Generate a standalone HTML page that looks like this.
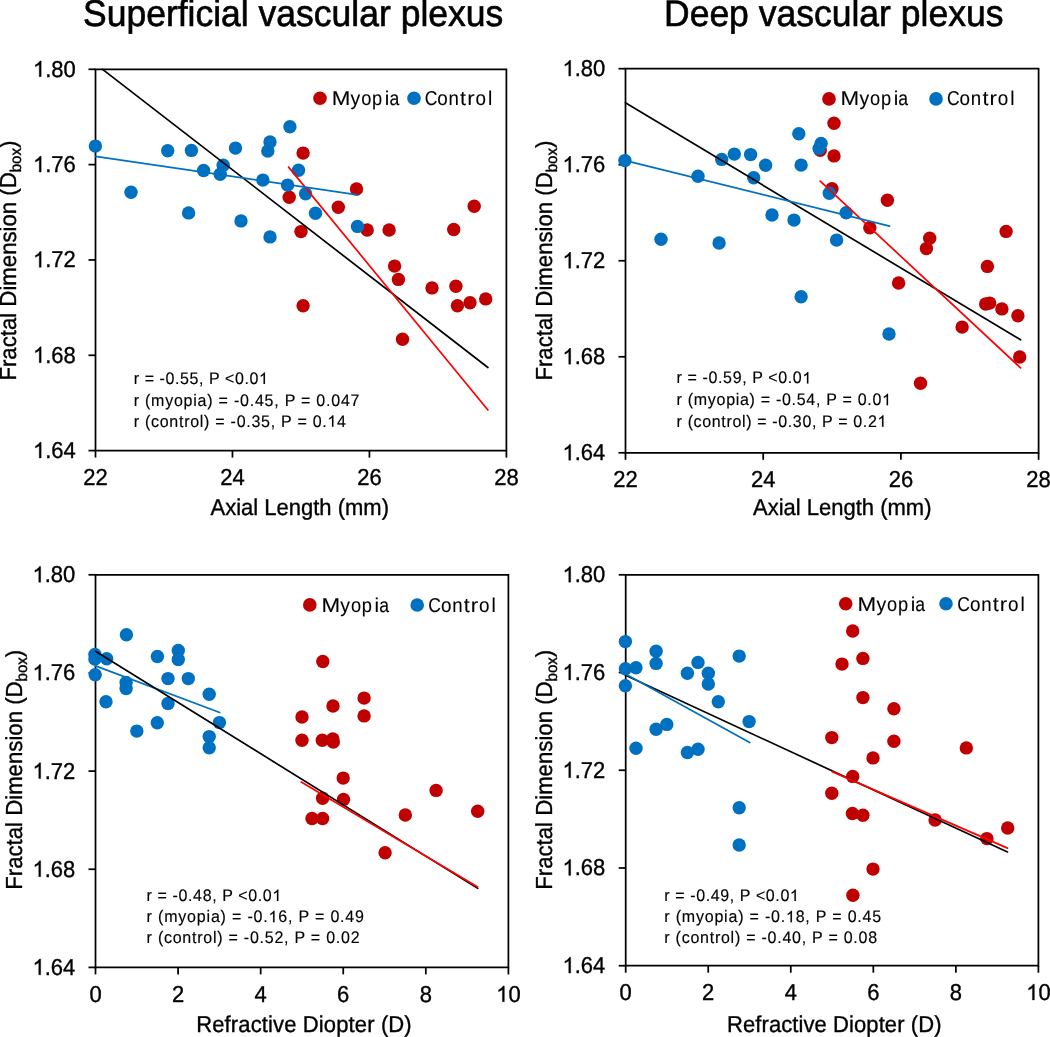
<!DOCTYPE html>
<html><head><meta charset="utf-8"><style>
html,body{margin:0;padding:0;background:#fff;width:1050px;height:1037px;overflow:hidden;}
svg{display:block;will-change:transform;}
text{text-rendering:geometricPrecision;font-family:"Liberation Sans", sans-serif;fill:#000;stroke:#000;stroke-width:0.35px;}
.ti{stroke-width:0.6px;}
.lg{stroke-width:0.1px;}
.st{stroke-width:0.15px;}
.h1{fill:transparent;stroke:transparent;}
</style></head><body>
<svg width="1050" height="1037" viewBox="0 0 1050 1037">
<text transform="translate(83 26.4) scale(1 1.045)" class="ti" font-size="35.5">Superficial vascular plexus</text>
<text transform="translate(664 26.4) scale(1 1.045)" class="ti" font-size="35.5">Deep vascular plexus</text>
<path d="M763 0H583V1147Q518 1085 412.5 1023T223 930V1104Q374 1175 487 1276T647 1472H763V0Z" transform="translate(258.99 383.8999938964844) scale(0.00781 -0.00781)" fill="#000" stroke="#000" stroke-width="19.2"/>
<path d="M763 0H583V1147Q518 1085 412.5 1023T223 930V1104Q374 1175 487 1276T647 1472H763V0Z" transform="translate(327.46 426.70001220703125) scale(0.00781 -0.00781)" fill="#000" stroke="#000" stroke-width="19.2"/>
<path d="M763 0H583V1147Q518 1085 412.5 1023T223 930V1104Q374 1175 487 1276T647 1472H763V0Z" transform="translate(802.39 383.3999938964844) scale(0.00781 -0.00781)" fill="#000" stroke="#000" stroke-width="19.2"/>
<path d="M763 0H583V1147Q518 1085 412.5 1023T223 930V1104Q374 1175 487 1276T647 1472H763V0Z" transform="translate(882.09 405.20001220703125) scale(0.00781 -0.00781)" fill="#000" stroke="#000" stroke-width="19.2"/>
<path d="M763 0H583V1147Q518 1085 412.5 1023T223 930V1104Q374 1175 487 1276T647 1472H763V0Z" transform="translate(877.49 426.70001220703125) scale(0.00781 -0.00781)" fill="#000" stroke="#000" stroke-width="19.2"/>
<path d="M763 0H583V1147Q518 1085 412.5 1023T223 930V1104Q374 1175 487 1276T647 1472H763V0Z" transform="translate(272.39 900.9000244140625) scale(0.00781 -0.00781)" fill="#000" stroke="#000" stroke-width="19.2"/>
<path d="M763 0H583V1147Q518 1085 412.5 1023T223 930V1104Q374 1175 487 1276T647 1472H763V0Z" transform="translate(268.55 922.2999877929688) scale(0.00781 -0.00781)" fill="#000" stroke="#000" stroke-width="19.2"/>
<path d="M763 0H583V1147Q518 1085 412.5 1023T223 930V1104Q374 1175 487 1276T647 1472H763V0Z" transform="translate(789.89 900.9000244140625) scale(0.00781 -0.00781)" fill="#000" stroke="#000" stroke-width="19.2"/>
<path d="M763 0H583V1147Q518 1085 412.5 1023T223 930V1104Q374 1175 487 1276T647 1472H763V0Z" transform="translate(785.96 922.2999877929688) scale(0.00781 -0.00781)" fill="#000" stroke="#000" stroke-width="19.2"/>
<path d="M95.5 69.3H506.4V450.6H95.5Z" fill="none" stroke="#000" stroke-width="1.75" stroke-linejoin="miter"/>
<line x1="95.5" y1="450.6" x2="95.5" y2="457.6" stroke="#000" stroke-width="1.75"/>
<text transform="translate(95.5 484.9) scale(1 1.045)" text-anchor="middle" font-size="22">22</text>
<line x1="232.47" y1="450.6" x2="232.47" y2="457.6" stroke="#000" stroke-width="1.75"/>
<text transform="translate(232.47 484.9) scale(1 1.045)" text-anchor="middle" font-size="22">24</text>
<line x1="369.43" y1="450.6" x2="369.43" y2="457.6" stroke="#000" stroke-width="1.75"/>
<text transform="translate(369.43 484.9) scale(1 1.045)" text-anchor="middle" font-size="22">26</text>
<line x1="506.4" y1="450.6" x2="506.4" y2="457.6" stroke="#000" stroke-width="1.75"/>
<text transform="translate(506.4 484.9) scale(1 1.045)" text-anchor="middle" font-size="22">28</text>
<line x1="88.5" y1="69.3" x2="95.5" y2="69.3" stroke="#000" stroke-width="1.75"/>
<path d="M763 0H583V1147Q518 1085 412.5 1023T223 930V1104Q374 1175 487 1276T647 1472H763V0Z" transform="translate(32.98 76.7) scale(0.01074 -0.01074)" fill="#000" stroke="#000" stroke-width="32.6"/>
<text transform="translate(75.8 76.7) scale(1 1.045)" text-anchor="end" font-size="22">.80</text>
<line x1="88.5" y1="164.62" x2="95.5" y2="164.62" stroke="#000" stroke-width="1.75"/>
<path d="M763 0H583V1147Q518 1085 412.5 1023T223 930V1104Q374 1175 487 1276T647 1472H763V0Z" transform="translate(32.98 172.02) scale(0.01074 -0.01074)" fill="#000" stroke="#000" stroke-width="32.6"/>
<text transform="translate(75.8 172.02) scale(1 1.045)" text-anchor="end" font-size="22">.76</text>
<line x1="88.5" y1="259.95" x2="95.5" y2="259.95" stroke="#000" stroke-width="1.75"/>
<path d="M763 0H583V1147Q518 1085 412.5 1023T223 930V1104Q374 1175 487 1276T647 1472H763V0Z" transform="translate(32.98 267.35) scale(0.01074 -0.01074)" fill="#000" stroke="#000" stroke-width="32.6"/>
<text transform="translate(75.8 267.35) scale(1 1.045)" text-anchor="end" font-size="22">.72</text>
<line x1="88.5" y1="355.28" x2="95.5" y2="355.28" stroke="#000" stroke-width="1.75"/>
<path d="M763 0H583V1147Q518 1085 412.5 1023T223 930V1104Q374 1175 487 1276T647 1472H763V0Z" transform="translate(32.98 362.68) scale(0.01074 -0.01074)" fill="#000" stroke="#000" stroke-width="32.6"/>
<text transform="translate(75.8 362.68) scale(1 1.045)" text-anchor="end" font-size="22">.68</text>
<line x1="88.5" y1="450.6" x2="95.5" y2="450.6" stroke="#000" stroke-width="1.75"/>
<path d="M763 0H583V1147Q518 1085 412.5 1023T223 930V1104Q374 1175 487 1276T647 1472H763V0Z" transform="translate(32.98 458.0) scale(0.01074 -0.01074)" fill="#000" stroke="#000" stroke-width="32.6"/>
<text transform="translate(75.8 458.0) scale(1 1.045)" text-anchor="end" font-size="22">.64</text>
<text transform="translate(16.1 380.6) rotate(-90) scale(1 1.045)" font-size="22.2">Fractal Dimension (D<tspan font-size="15" dy="4.8">box</tspan><tspan dy="-4.8">)</tspan></text>
<text transform="translate(210.5 514.8) scale(1 1.045)" font-size="22" textLength="178.5" lengthAdjust="spacing">Axial Length (mm)</text>
<circle cx="320" cy="98.2" r="6.8" fill="#C00000"/>
<circle cx="414" cy="98.3" r="6.8" fill="#0070C0"/>
<text class="lg" font-size="20" transform="translate(331.67 104.8) scale(1.120 1.0)">M</text><text class="lg" font-size="20" transform="translate(350.55 104.8) scale(0.969 1.0)">y</text><text class="lg" font-size="20" transform="translate(361.13 104.8) scale(0.911 1.0)">o</text><text class="lg" font-size="20" transform="translate(372.02 104.8) scale(0.912 1.0)">p</text><text class="lg" font-size="20" transform="translate(384.73 104.8) scale(1.023 1.0)">i</text><text class="lg" font-size="20" transform="translate(389.38 104.8) scale(0.880 1.0)">a</text>
<text class="lg" font-size="20" transform="translate(424.63 104.8) scale(0.880 1.0)">C</text><text class="lg" font-size="20" transform="translate(437.31 104.8) scale(0.943 1.0)">o</text><text class="lg" font-size="20" transform="translate(448.56 104.8) scale(0.931 1.0)">n</text><text class="lg" font-size="20" transform="translate(460.08 104.8) scale(1.076 1.0)">t</text><text class="lg" font-size="20" transform="translate(467.14 104.8) scale(1.100 1.0)">r</text><text class="lg" font-size="20" transform="translate(475.41 104.8) scale(0.943 1.0)">o</text><text class="lg" font-size="20" transform="translate(487.90 104.8) scale(0.966 1.0)">l</text>
<text transform="translate(133.7 383.9) scale(1 1.045)" font-size="16" class="st" textLength="134.2" lengthAdjust="spacing">r = -0.55, P &lt;0.0<tspan class="h1">1</tspan></text>
<text transform="translate(133.7 405.5) scale(1 1.045)" font-size="16" class="st" textLength="225.8" lengthAdjust="spacing">r (myopia) = -0.45, P = 0.047</text>
<text transform="translate(133.7 426.7) scale(1 1.045)" font-size="16" class="st" textLength="212.3" lengthAdjust="spacing">r (control) = -0.35, P = 0.<tspan class="h1">1</tspan>4</text>
<circle cx="303.1" cy="153.1" r="6.7" fill="#C00000"/>
<circle cx="289.2" cy="197.3" r="6.7" fill="#C00000"/>
<circle cx="301.0" cy="231.6" r="6.7" fill="#C00000"/>
<circle cx="303.1" cy="305.7" r="6.7" fill="#C00000"/>
<circle cx="338.3" cy="207.2" r="6.7" fill="#C00000"/>
<circle cx="356.5" cy="189.0" r="6.7" fill="#C00000"/>
<circle cx="367.2" cy="230.0" r="6.7" fill="#C00000"/>
<circle cx="389.1" cy="230.0" r="6.7" fill="#C00000"/>
<circle cx="394.6" cy="266.1" r="6.7" fill="#C00000"/>
<circle cx="398.4" cy="279.4" r="6.7" fill="#C00000"/>
<circle cx="402.5" cy="339.2" r="6.7" fill="#C00000"/>
<circle cx="432.0" cy="287.9" r="6.7" fill="#C00000"/>
<circle cx="453.7" cy="229.5" r="6.7" fill="#C00000"/>
<circle cx="455.9" cy="286.2" r="6.7" fill="#C00000"/>
<circle cx="457.4" cy="305.7" r="6.7" fill="#C00000"/>
<circle cx="470.0" cy="302.7" r="6.7" fill="#C00000"/>
<circle cx="474.2" cy="206.2" r="6.7" fill="#C00000"/>
<circle cx="485.7" cy="298.9" r="6.7" fill="#C00000"/>
<circle cx="95.4" cy="146.1" r="6.7" fill="#0070C0"/>
<circle cx="131.0" cy="192.3" r="6.7" fill="#0070C0"/>
<circle cx="167.7" cy="150.8" r="6.7" fill="#0070C0"/>
<circle cx="191.4" cy="150.4" r="6.7" fill="#0070C0"/>
<circle cx="188.6" cy="212.9" r="6.7" fill="#0070C0"/>
<circle cx="203.6" cy="170.5" r="6.7" fill="#0070C0"/>
<circle cx="220.2" cy="174.3" r="6.7" fill="#0070C0"/>
<circle cx="223.2" cy="165.2" r="6.7" fill="#0070C0"/>
<circle cx="235.5" cy="148.1" r="6.7" fill="#0070C0"/>
<circle cx="241.0" cy="220.9" r="6.7" fill="#0070C0"/>
<circle cx="262.9" cy="180.1" r="6.7" fill="#0070C0"/>
<circle cx="267.8" cy="151.1" r="6.7" fill="#0070C0"/>
<circle cx="270.0" cy="142.0" r="6.7" fill="#0070C0"/>
<circle cx="270.0" cy="236.9" r="6.7" fill="#0070C0"/>
<circle cx="289.9" cy="126.8" r="6.7" fill="#0070C0"/>
<circle cx="287.6" cy="185.1" r="6.7" fill="#0070C0"/>
<circle cx="298.5" cy="170.2" r="6.7" fill="#0070C0"/>
<circle cx="305.6" cy="193.8" r="6.7" fill="#0070C0"/>
<circle cx="315.5" cy="213.3" r="6.7" fill="#0070C0"/>
<circle cx="357.5" cy="226.4" r="6.7" fill="#0070C0"/>
<line x1="102.6" y1="69.3" x2="487.9" y2="367.5" stroke="#000" stroke-width="1.7" stroke-linecap="round"/>
<line x1="288.6" y1="167.1" x2="487.9" y2="410.0" stroke="#FF0000" stroke-width="1.7" stroke-linecap="round"/>
<line x1="95.5" y1="156.3" x2="357.7" y2="194.9" stroke="#0070C0" stroke-width="1.7" stroke-linecap="round"/>
<path d="M625.5 68.7H1038.6V452.8H625.5Z" fill="none" stroke="#000" stroke-width="1.75" stroke-linejoin="miter"/>
<line x1="625.5" y1="452.8" x2="625.5" y2="459.8" stroke="#000" stroke-width="1.75"/>
<text transform="translate(625.5 487.1) scale(1 1.045)" text-anchor="middle" font-size="22">22</text>
<line x1="763.2" y1="452.8" x2="763.2" y2="459.8" stroke="#000" stroke-width="1.75"/>
<text transform="translate(763.2 487.1) scale(1 1.045)" text-anchor="middle" font-size="22">24</text>
<line x1="900.9" y1="452.8" x2="900.9" y2="459.8" stroke="#000" stroke-width="1.75"/>
<text transform="translate(900.9 487.1) scale(1 1.045)" text-anchor="middle" font-size="22">26</text>
<line x1="1038.6" y1="452.8" x2="1038.6" y2="459.8" stroke="#000" stroke-width="1.75"/>
<text transform="translate(1038.6 487.1) scale(1 1.045)" text-anchor="middle" font-size="22">28</text>
<line x1="618.5" y1="68.7" x2="625.5" y2="68.7" stroke="#000" stroke-width="1.75"/>
<path d="M763 0H583V1147Q518 1085 412.5 1023T223 930V1104Q374 1175 487 1276T647 1472H763V0Z" transform="translate(562.48 76.1) scale(0.01074 -0.01074)" fill="#000" stroke="#000" stroke-width="32.6"/>
<text transform="translate(605.3 76.1) scale(1 1.045)" text-anchor="end" font-size="22">.80</text>
<line x1="618.5" y1="164.73" x2="625.5" y2="164.73" stroke="#000" stroke-width="1.75"/>
<path d="M763 0H583V1147Q518 1085 412.5 1023T223 930V1104Q374 1175 487 1276T647 1472H763V0Z" transform="translate(562.48 172.13) scale(0.01074 -0.01074)" fill="#000" stroke="#000" stroke-width="32.6"/>
<text transform="translate(605.3 172.13) scale(1 1.045)" text-anchor="end" font-size="22">.76</text>
<line x1="618.5" y1="260.75" x2="625.5" y2="260.75" stroke="#000" stroke-width="1.75"/>
<path d="M763 0H583V1147Q518 1085 412.5 1023T223 930V1104Q374 1175 487 1276T647 1472H763V0Z" transform="translate(562.48 268.15) scale(0.01074 -0.01074)" fill="#000" stroke="#000" stroke-width="32.6"/>
<text transform="translate(605.3 268.15) scale(1 1.045)" text-anchor="end" font-size="22">.72</text>
<line x1="618.5" y1="356.78" x2="625.5" y2="356.78" stroke="#000" stroke-width="1.75"/>
<path d="M763 0H583V1147Q518 1085 412.5 1023T223 930V1104Q374 1175 487 1276T647 1472H763V0Z" transform="translate(562.48 364.18) scale(0.01074 -0.01074)" fill="#000" stroke="#000" stroke-width="32.6"/>
<text transform="translate(605.3 364.18) scale(1 1.045)" text-anchor="end" font-size="22">.68</text>
<line x1="618.5" y1="452.8" x2="625.5" y2="452.8" stroke="#000" stroke-width="1.75"/>
<path d="M763 0H583V1147Q518 1085 412.5 1023T223 930V1104Q374 1175 487 1276T647 1472H763V0Z" transform="translate(562.48 460.2) scale(0.01074 -0.01074)" fill="#000" stroke="#000" stroke-width="32.6"/>
<text transform="translate(605.3 460.2) scale(1 1.045)" text-anchor="end" font-size="22">.64</text>
<text transform="translate(551.7 380.6) rotate(-90) scale(1 1.045)" font-size="22.2">Fractal Dimension (D<tspan font-size="15" dy="4.8">box</tspan><tspan dy="-4.8">)</tspan></text>
<text transform="translate(753 514.6) scale(1 1.045)" font-size="22" textLength="178.5" lengthAdjust="spacing">Axial Length (mm)</text>
<circle cx="829.0" cy="98.9" r="6.8" fill="#C00000"/>
<circle cx="936" cy="98.9" r="6.8" fill="#0070C0"/>
<text class="lg" font-size="20" transform="translate(840.57 105.1) scale(1.120 1.0)">M</text><text class="lg" font-size="20" transform="translate(859.45 105.1) scale(0.969 1.0)">y</text><text class="lg" font-size="20" transform="translate(870.03 105.1) scale(0.911 1.0)">o</text><text class="lg" font-size="20" transform="translate(880.92 105.1) scale(0.912 1.0)">p</text><text class="lg" font-size="20" transform="translate(893.63 105.1) scale(1.023 1.0)">i</text><text class="lg" font-size="20" transform="translate(898.28 105.1) scale(0.880 1.0)">a</text>
<text class="lg" font-size="20" transform="translate(946.93 105.1) scale(0.880 1.0)">C</text><text class="lg" font-size="20" transform="translate(959.61 105.1) scale(0.943 1.0)">o</text><text class="lg" font-size="20" transform="translate(970.86 105.1) scale(0.931 1.0)">n</text><text class="lg" font-size="20" transform="translate(982.38 105.1) scale(1.076 1.0)">t</text><text class="lg" font-size="20" transform="translate(989.44 105.1) scale(1.100 1.0)">r</text><text class="lg" font-size="20" transform="translate(997.71 105.1) scale(0.943 1.0)">o</text><text class="lg" font-size="20" transform="translate(1010.20 105.1) scale(0.966 1.0)">l</text>
<text transform="translate(676.6 383.4) scale(1 1.045)" font-size="16" class="st" textLength="134.7" lengthAdjust="spacing">r = -0.59, P &lt;0.0<tspan class="h1">1</tspan></text>
<text transform="translate(676.6 405.2) scale(1 1.045)" font-size="16" class="st" textLength="214.4" lengthAdjust="spacing">r (myopia) = -0.54, P = 0.0<tspan class="h1">1</tspan></text>
<text transform="translate(676.6 426.7) scale(1 1.045)" font-size="16" class="st" textLength="209.8" lengthAdjust="spacing">r (control) = -0.30, P = 0.2<tspan class="h1">1</tspan></text>
<circle cx="834.0" cy="123.2" r="6.7" fill="#C00000"/>
<circle cx="820.2" cy="150.3" r="6.7" fill="#C00000"/>
<circle cx="834.0" cy="155.9" r="6.7" fill="#C00000"/>
<circle cx="832.0" cy="188.8" r="6.7" fill="#C00000"/>
<circle cx="887.4" cy="200.3" r="6.7" fill="#C00000"/>
<circle cx="869.8" cy="227.7" r="6.7" fill="#C00000"/>
<circle cx="898.6" cy="283.0" r="6.7" fill="#C00000"/>
<circle cx="929.7" cy="238.3" r="6.7" fill="#C00000"/>
<circle cx="926.4" cy="248.6" r="6.7" fill="#C00000"/>
<circle cx="1006.1" cy="231.4" r="6.7" fill="#C00000"/>
<circle cx="987.4" cy="266.4" r="6.7" fill="#C00000"/>
<circle cx="985.7" cy="304.0" r="6.7" fill="#C00000"/>
<circle cx="989.7" cy="303.1" r="6.7" fill="#C00000"/>
<circle cx="1001.9" cy="308.9" r="6.7" fill="#C00000"/>
<circle cx="1017.9" cy="315.7" r="6.7" fill="#C00000"/>
<circle cx="962.1" cy="327.1" r="6.7" fill="#C00000"/>
<circle cx="920.5" cy="383.2" r="6.7" fill="#C00000"/>
<circle cx="1019.7" cy="357.0" r="6.7" fill="#C00000"/>
<circle cx="624.9" cy="160.6" r="6.7" fill="#0070C0"/>
<circle cx="698.0" cy="176.2" r="6.7" fill="#0070C0"/>
<circle cx="721.7" cy="159.4" r="6.7" fill="#0070C0"/>
<circle cx="734.3" cy="154.1" r="6.7" fill="#0070C0"/>
<circle cx="750.6" cy="154.6" r="6.7" fill="#0070C0"/>
<circle cx="765.6" cy="165.2" r="6.7" fill="#0070C0"/>
<circle cx="753.7" cy="177.7" r="6.7" fill="#0070C0"/>
<circle cx="772.0" cy="215.0" r="6.7" fill="#0070C0"/>
<circle cx="661.0" cy="239.3" r="6.7" fill="#0070C0"/>
<circle cx="719.1" cy="243.0" r="6.7" fill="#0070C0"/>
<circle cx="798.8" cy="133.8" r="6.7" fill="#0070C0"/>
<circle cx="821.1" cy="143.4" r="6.7" fill="#0070C0"/>
<circle cx="819.1" cy="148.5" r="6.7" fill="#0070C0"/>
<circle cx="801.1" cy="165.1" r="6.7" fill="#0070C0"/>
<circle cx="829.3" cy="193.3" r="6.7" fill="#0070C0"/>
<circle cx="846.1" cy="212.8" r="6.7" fill="#0070C0"/>
<circle cx="794.0" cy="220.1" r="6.7" fill="#0070C0"/>
<circle cx="836.6" cy="240.1" r="6.7" fill="#0070C0"/>
<circle cx="801.1" cy="296.8" r="6.7" fill="#0070C0"/>
<circle cx="889.0" cy="334.0" r="6.7" fill="#0070C0"/>
<line x1="625.4" y1="102.7" x2="1020.6" y2="339.8" stroke="#000" stroke-width="1.7" stroke-linecap="round"/>
<line x1="820.2" y1="181.2" x2="1020.6" y2="367.9" stroke="#FF0000" stroke-width="1.7" stroke-linecap="round"/>
<line x1="625.5" y1="160.6" x2="889.6" y2="226.1" stroke="#0070C0" stroke-width="1.7" stroke-linecap="round"/>
<path d="M95.5 574.8H508.4V967.4H95.5Z" fill="none" stroke="#000" stroke-width="1.75" stroke-linejoin="miter"/>
<line x1="95.5" y1="967.4" x2="95.5" y2="974.4" stroke="#000" stroke-width="1.75"/>
<text transform="translate(95.5 1001.7) scale(1 1.045)" text-anchor="middle" font-size="22">0</text>
<line x1="178.08" y1="967.4" x2="178.08" y2="974.4" stroke="#000" stroke-width="1.75"/>
<text transform="translate(178.08 1001.7) scale(1 1.045)" text-anchor="middle" font-size="22">2</text>
<line x1="260.66" y1="967.4" x2="260.66" y2="974.4" stroke="#000" stroke-width="1.75"/>
<text transform="translate(260.66 1001.7) scale(1 1.045)" text-anchor="middle" font-size="22">4</text>
<line x1="343.24" y1="967.4" x2="343.24" y2="974.4" stroke="#000" stroke-width="1.75"/>
<text transform="translate(343.24 1001.7) scale(1 1.045)" text-anchor="middle" font-size="22">6</text>
<line x1="425.82" y1="967.4" x2="425.82" y2="974.4" stroke="#000" stroke-width="1.75"/>
<text transform="translate(425.82 1001.7) scale(1 1.045)" text-anchor="middle" font-size="22">8</text>
<line x1="508.4" y1="967.4" x2="508.4" y2="974.4" stroke="#000" stroke-width="1.75"/>
<path d="M763 0H583V1147Q518 1085 412.5 1023T223 930V1104Q374 1175 487 1276T647 1472H763V0Z" transform="translate(496.16 1001.7) scale(0.01074 -0.01074)" fill="#000" stroke="#000" stroke-width="32.6"/>
<text transform="translate(508.4 1001.7) scale(1 1.045)" font-size="22">0</text>
<line x1="88.5" y1="574.8" x2="95.5" y2="574.8" stroke="#000" stroke-width="1.75"/>
<path d="M763 0H583V1147Q518 1085 412.5 1023T223 930V1104Q374 1175 487 1276T647 1472H763V0Z" transform="translate(32.48 582.2) scale(0.01074 -0.01074)" fill="#000" stroke="#000" stroke-width="32.6"/>
<text transform="translate(75.3 582.2) scale(1 1.045)" text-anchor="end" font-size="22">.80</text>
<line x1="88.5" y1="672.95" x2="95.5" y2="672.95" stroke="#000" stroke-width="1.75"/>
<path d="M763 0H583V1147Q518 1085 412.5 1023T223 930V1104Q374 1175 487 1276T647 1472H763V0Z" transform="translate(32.48 680.35) scale(0.01074 -0.01074)" fill="#000" stroke="#000" stroke-width="32.6"/>
<text transform="translate(75.3 680.35) scale(1 1.045)" text-anchor="end" font-size="22">.76</text>
<line x1="88.5" y1="771.1" x2="95.5" y2="771.1" stroke="#000" stroke-width="1.75"/>
<path d="M763 0H583V1147Q518 1085 412.5 1023T223 930V1104Q374 1175 487 1276T647 1472H763V0Z" transform="translate(32.48 778.5) scale(0.01074 -0.01074)" fill="#000" stroke="#000" stroke-width="32.6"/>
<text transform="translate(75.3 778.5) scale(1 1.045)" text-anchor="end" font-size="22">.72</text>
<line x1="88.5" y1="869.25" x2="95.5" y2="869.25" stroke="#000" stroke-width="1.75"/>
<path d="M763 0H583V1147Q518 1085 412.5 1023T223 930V1104Q374 1175 487 1276T647 1472H763V0Z" transform="translate(32.48 876.65) scale(0.01074 -0.01074)" fill="#000" stroke="#000" stroke-width="32.6"/>
<text transform="translate(75.3 876.65) scale(1 1.045)" text-anchor="end" font-size="22">.68</text>
<line x1="88.5" y1="967.4" x2="95.5" y2="967.4" stroke="#000" stroke-width="1.75"/>
<path d="M763 0H583V1147Q518 1085 412.5 1023T223 930V1104Q374 1175 487 1276T647 1472H763V0Z" transform="translate(32.48 974.8) scale(0.01074 -0.01074)" fill="#000" stroke="#000" stroke-width="32.6"/>
<text transform="translate(75.3 974.8) scale(1 1.045)" text-anchor="end" font-size="22">.64</text>
<text transform="translate(21.6 889.8) rotate(-90) scale(1 1.045)" font-size="22.2">Fractal Dimension (D<tspan font-size="15" dy="4.8">box</tspan><tspan dy="-4.8">)</tspan></text>
<text transform="translate(196.2 1031.6) scale(1 1.045)" font-size="22" textLength="215.5" lengthAdjust="spacing">Refractive Diopter (D)</text>
<circle cx="309.8" cy="604.9" r="6.8" fill="#C00000"/>
<circle cx="417.2" cy="605" r="6.8" fill="#0070C0"/>
<text class="lg" font-size="20" transform="translate(321.47 611.5) scale(1.120 1.0)">M</text><text class="lg" font-size="20" transform="translate(340.35 611.5) scale(0.969 1.0)">y</text><text class="lg" font-size="20" transform="translate(350.93 611.5) scale(0.911 1.0)">o</text><text class="lg" font-size="20" transform="translate(361.82 611.5) scale(0.912 1.0)">p</text><text class="lg" font-size="20" transform="translate(374.53 611.5) scale(1.023 1.0)">i</text><text class="lg" font-size="20" transform="translate(379.18 611.5) scale(0.880 1.0)">a</text>
<text class="lg" font-size="20" transform="translate(428.33 611.5) scale(0.880 1.0)">C</text><text class="lg" font-size="20" transform="translate(441.01 611.5) scale(0.943 1.0)">o</text><text class="lg" font-size="20" transform="translate(452.26 611.5) scale(0.931 1.0)">n</text><text class="lg" font-size="20" transform="translate(463.78 611.5) scale(1.076 1.0)">t</text><text class="lg" font-size="20" transform="translate(470.84 611.5) scale(1.100 1.0)">r</text><text class="lg" font-size="20" transform="translate(479.11 611.5) scale(0.943 1.0)">o</text><text class="lg" font-size="20" transform="translate(491.60 611.5) scale(0.966 1.0)">l</text>
<text transform="translate(146.6 900.9) scale(1 1.045)" font-size="16" class="st" textLength="134.7" lengthAdjust="spacing">r = -0.48, P &lt;0.0<tspan class="h1">1</tspan></text>
<text transform="translate(146.6 922.3) scale(1 1.045)" font-size="16" class="st" textLength="217.4" lengthAdjust="spacing">r (myopia) = -0.<tspan class="h1">1</tspan>6, P = 0.49</text>
<text transform="translate(146.6 943.4) scale(1 1.045)" font-size="16" class="st" textLength="213.0" lengthAdjust="spacing">r (control) = -0.52, P = 0.02</text>
<circle cx="322.8" cy="661.5" r="6.7" fill="#C00000"/>
<circle cx="364.1" cy="698.1" r="6.7" fill="#C00000"/>
<circle cx="333.0" cy="706.0" r="6.7" fill="#C00000"/>
<circle cx="302.0" cy="717.0" r="6.7" fill="#C00000"/>
<circle cx="364.1" cy="715.9" r="6.7" fill="#C00000"/>
<circle cx="302.0" cy="740.3" r="6.7" fill="#C00000"/>
<circle cx="322.3" cy="740.3" r="6.7" fill="#C00000"/>
<circle cx="332.8" cy="739.0" r="6.7" fill="#C00000"/>
<circle cx="333.3" cy="742.0" r="6.7" fill="#C00000"/>
<circle cx="343.2" cy="778.1" r="6.7" fill="#C00000"/>
<circle cx="322.6" cy="798.2" r="6.7" fill="#C00000"/>
<circle cx="343.5" cy="799.4" r="6.7" fill="#C00000"/>
<circle cx="312.0" cy="818.5" r="6.7" fill="#C00000"/>
<circle cx="322.6" cy="818.5" r="6.7" fill="#C00000"/>
<circle cx="385.1" cy="852.8" r="6.7" fill="#C00000"/>
<circle cx="436.1" cy="790.4" r="6.7" fill="#C00000"/>
<circle cx="405.3" cy="815.0" r="6.7" fill="#C00000"/>
<circle cx="477.7" cy="811.2" r="6.7" fill="#C00000"/>
<circle cx="126.4" cy="634.7" r="6.7" fill="#0070C0"/>
<circle cx="94.9" cy="654.5" r="6.7" fill="#0070C0"/>
<circle cx="94.9" cy="659.0" r="6.7" fill="#0070C0"/>
<circle cx="106.7" cy="658.8" r="6.7" fill="#0070C0"/>
<circle cx="95.2" cy="674.7" r="6.7" fill="#0070C0"/>
<circle cx="126.1" cy="682.4" r="6.7" fill="#0070C0"/>
<circle cx="126.1" cy="688.5" r="6.7" fill="#0070C0"/>
<circle cx="106.0" cy="701.7" r="6.7" fill="#0070C0"/>
<circle cx="157.4" cy="656.5" r="6.7" fill="#0070C0"/>
<circle cx="178.3" cy="650.4" r="6.7" fill="#0070C0"/>
<circle cx="178.3" cy="659.5" r="6.7" fill="#0070C0"/>
<circle cx="168.0" cy="678.6" r="6.7" fill="#0070C0"/>
<circle cx="188.3" cy="678.6" r="6.7" fill="#0070C0"/>
<circle cx="209.2" cy="694.3" r="6.7" fill="#0070C0"/>
<circle cx="168.0" cy="703.5" r="6.7" fill="#0070C0"/>
<circle cx="157.3" cy="722.8" r="6.7" fill="#0070C0"/>
<circle cx="136.8" cy="731.1" r="6.7" fill="#0070C0"/>
<circle cx="219.4" cy="722.6" r="6.7" fill="#0070C0"/>
<circle cx="209.2" cy="736.6" r="6.7" fill="#0070C0"/>
<circle cx="209.2" cy="747.7" r="6.7" fill="#0070C0"/>
<line x1="95.5" y1="665.9" x2="219.7" y2="712.5" stroke="#0070C0" stroke-width="1.7" stroke-linecap="round"/>
<line x1="95.5" y1="651.2" x2="477.7" y2="888.4" stroke="#000" stroke-width="1.7" stroke-linecap="round"/>
<line x1="301.3" y1="781.9" x2="477.7" y2="886.9" stroke="#FF0000" stroke-width="1.7" stroke-linecap="round"/>
<path d="M625.7 574.8H1038.4V965.7H625.7Z" fill="none" stroke="#000" stroke-width="1.75" stroke-linejoin="miter"/>
<line x1="625.7" y1="965.7" x2="625.7" y2="972.7" stroke="#000" stroke-width="1.75"/>
<text transform="translate(625.7 1000.0) scale(1 1.045)" text-anchor="middle" font-size="22">0</text>
<line x1="708.24" y1="965.7" x2="708.24" y2="972.7" stroke="#000" stroke-width="1.75"/>
<text transform="translate(708.24 1000.0) scale(1 1.045)" text-anchor="middle" font-size="22">2</text>
<line x1="790.78" y1="965.7" x2="790.78" y2="972.7" stroke="#000" stroke-width="1.75"/>
<text transform="translate(790.78 1000.0) scale(1 1.045)" text-anchor="middle" font-size="22">4</text>
<line x1="873.32" y1="965.7" x2="873.32" y2="972.7" stroke="#000" stroke-width="1.75"/>
<text transform="translate(873.32 1000.0) scale(1 1.045)" text-anchor="middle" font-size="22">6</text>
<line x1="955.86" y1="965.7" x2="955.86" y2="972.7" stroke="#000" stroke-width="1.75"/>
<text transform="translate(955.86 1000.0) scale(1 1.045)" text-anchor="middle" font-size="22">8</text>
<line x1="1038.4" y1="965.7" x2="1038.4" y2="972.7" stroke="#000" stroke-width="1.75"/>
<path d="M763 0H583V1147Q518 1085 412.5 1023T223 930V1104Q374 1175 487 1276T647 1472H763V0Z" transform="translate(1026.17 1000.0) scale(0.01074 -0.01074)" fill="#000" stroke="#000" stroke-width="32.6"/>
<text transform="translate(1038.4 1000.0) scale(1 1.045)" font-size="22">0</text>
<line x1="618.7" y1="574.8" x2="625.7" y2="574.8" stroke="#000" stroke-width="1.75"/>
<path d="M763 0H583V1147Q518 1085 412.5 1023T223 930V1104Q374 1175 487 1276T647 1472H763V0Z" transform="translate(562.48 582.2) scale(0.01074 -0.01074)" fill="#000" stroke="#000" stroke-width="32.6"/>
<text transform="translate(605.3 582.2) scale(1 1.045)" text-anchor="end" font-size="22">.80</text>
<line x1="618.7" y1="672.52" x2="625.7" y2="672.52" stroke="#000" stroke-width="1.75"/>
<path d="M763 0H583V1147Q518 1085 412.5 1023T223 930V1104Q374 1175 487 1276T647 1472H763V0Z" transform="translate(562.48 679.92) scale(0.01074 -0.01074)" fill="#000" stroke="#000" stroke-width="32.6"/>
<text transform="translate(605.3 679.92) scale(1 1.045)" text-anchor="end" font-size="22">.76</text>
<line x1="618.7" y1="770.25" x2="625.7" y2="770.25" stroke="#000" stroke-width="1.75"/>
<path d="M763 0H583V1147Q518 1085 412.5 1023T223 930V1104Q374 1175 487 1276T647 1472H763V0Z" transform="translate(562.48 777.65) scale(0.01074 -0.01074)" fill="#000" stroke="#000" stroke-width="32.6"/>
<text transform="translate(605.3 777.65) scale(1 1.045)" text-anchor="end" font-size="22">.72</text>
<line x1="618.7" y1="867.98" x2="625.7" y2="867.98" stroke="#000" stroke-width="1.75"/>
<path d="M763 0H583V1147Q518 1085 412.5 1023T223 930V1104Q374 1175 487 1276T647 1472H763V0Z" transform="translate(562.48 875.38) scale(0.01074 -0.01074)" fill="#000" stroke="#000" stroke-width="32.6"/>
<text transform="translate(605.3 875.38) scale(1 1.045)" text-anchor="end" font-size="22">.68</text>
<line x1="618.7" y1="965.7" x2="625.7" y2="965.7" stroke="#000" stroke-width="1.75"/>
<path d="M763 0H583V1147Q518 1085 412.5 1023T223 930V1104Q374 1175 487 1276T647 1472H763V0Z" transform="translate(562.48 973.1) scale(0.01074 -0.01074)" fill="#000" stroke="#000" stroke-width="32.6"/>
<text transform="translate(605.3 973.1) scale(1 1.045)" text-anchor="end" font-size="22">.64</text>
<text transform="translate(551.7 889.8) rotate(-90) scale(1 1.045)" font-size="22.2">Fractal Dimension (D<tspan font-size="15" dy="4.8">box</tspan><tspan dy="-4.8">)</tspan></text>
<text transform="translate(727.0 1031.7) scale(1 1.045)" font-size="22" textLength="214.5" lengthAdjust="spacing">Refractive Diopter (D)</text>
<circle cx="845.7" cy="603.8" r="6.8" fill="#C00000"/>
<circle cx="946" cy="603.8" r="6.8" fill="#0070C0"/>
<text class="lg" font-size="20" transform="translate(857.57 610.6) scale(1.120 1.0)">M</text><text class="lg" font-size="20" transform="translate(876.45 610.6) scale(0.969 1.0)">y</text><text class="lg" font-size="20" transform="translate(887.03 610.6) scale(0.911 1.0)">o</text><text class="lg" font-size="20" transform="translate(897.92 610.6) scale(0.912 1.0)">p</text><text class="lg" font-size="20" transform="translate(910.63 610.6) scale(1.023 1.0)">i</text><text class="lg" font-size="20" transform="translate(915.28 610.6) scale(0.880 1.0)">a</text>
<text class="lg" font-size="20" transform="translate(957.23 610.6) scale(0.880 1.0)">C</text><text class="lg" font-size="20" transform="translate(969.91 610.6) scale(0.943 1.0)">o</text><text class="lg" font-size="20" transform="translate(981.16 610.6) scale(0.931 1.0)">n</text><text class="lg" font-size="20" transform="translate(992.68 610.6) scale(1.076 1.0)">t</text><text class="lg" font-size="20" transform="translate(999.74 610.6) scale(1.100 1.0)">r</text><text class="lg" font-size="20" transform="translate(1008.01 610.6) scale(0.943 1.0)">o</text><text class="lg" font-size="20" transform="translate(1020.50 610.6) scale(0.966 1.0)">l</text>
<text transform="translate(664.3 900.9) scale(1 1.045)" font-size="16" class="st" textLength="134.5" lengthAdjust="spacing">r = -0.49, P &lt;0.0<tspan class="h1">1</tspan></text>
<text transform="translate(664.3 922.3) scale(1 1.045)" font-size="16" class="st" textLength="216.9" lengthAdjust="spacing">r (myopia) = -0.<tspan class="h1">1</tspan>8, P = 0.45</text>
<text transform="translate(664.3 943.4) scale(1 1.045)" font-size="16" class="st" textLength="212.8" lengthAdjust="spacing">r (control) = -0.40, P = 0.08</text>
<circle cx="852.7" cy="631.0" r="6.7" fill="#C00000"/>
<circle cx="862.9" cy="658.4" r="6.7" fill="#C00000"/>
<circle cx="842.0" cy="664.1" r="6.7" fill="#C00000"/>
<circle cx="862.9" cy="697.6" r="6.7" fill="#C00000"/>
<circle cx="893.9" cy="708.7" r="6.7" fill="#C00000"/>
<circle cx="831.8" cy="737.6" r="6.7" fill="#C00000"/>
<circle cx="893.9" cy="741.3" r="6.7" fill="#C00000"/>
<circle cx="873.0" cy="757.9" r="6.7" fill="#C00000"/>
<circle cx="852.7" cy="776.4" r="6.7" fill="#C00000"/>
<circle cx="831.8" cy="793.2" r="6.7" fill="#C00000"/>
<circle cx="852.4" cy="813.5" r="6.7" fill="#C00000"/>
<circle cx="862.9" cy="815.3" r="6.7" fill="#C00000"/>
<circle cx="873.0" cy="869.1" r="6.7" fill="#C00000"/>
<circle cx="935.1" cy="820.0" r="6.7" fill="#C00000"/>
<circle cx="966.3" cy="747.9" r="6.7" fill="#C00000"/>
<circle cx="986.9" cy="838.6" r="6.7" fill="#C00000"/>
<circle cx="1007.7" cy="828.0" r="6.7" fill="#C00000"/>
<circle cx="852.9" cy="895.2" r="6.7" fill="#C00000"/>
<circle cx="625.4" cy="641.6" r="6.7" fill="#0070C0"/>
<circle cx="656.1" cy="651.2" r="6.7" fill="#0070C0"/>
<circle cx="656.1" cy="663.4" r="6.7" fill="#0070C0"/>
<circle cx="625.4" cy="668.8" r="6.7" fill="#0070C0"/>
<circle cx="636.0" cy="667.8" r="6.7" fill="#0070C0"/>
<circle cx="625.4" cy="685.7" r="6.7" fill="#0070C0"/>
<circle cx="698.0" cy="662.4" r="6.7" fill="#0070C0"/>
<circle cx="687.4" cy="673.3" r="6.7" fill="#0070C0"/>
<circle cx="708.3" cy="673.3" r="6.7" fill="#0070C0"/>
<circle cx="708.3" cy="684.0" r="6.7" fill="#0070C0"/>
<circle cx="739.2" cy="656.1" r="6.7" fill="#0070C0"/>
<circle cx="718.3" cy="701.8" r="6.7" fill="#0070C0"/>
<circle cx="749.1" cy="721.6" r="6.7" fill="#0070C0"/>
<circle cx="666.8" cy="724.4" r="6.7" fill="#0070C0"/>
<circle cx="656.1" cy="729.3" r="6.7" fill="#0070C0"/>
<circle cx="636.0" cy="748.2" r="6.7" fill="#0070C0"/>
<circle cx="687.4" cy="752.5" r="6.7" fill="#0070C0"/>
<circle cx="698.0" cy="749.3" r="6.7" fill="#0070C0"/>
<circle cx="739.2" cy="807.7" r="6.7" fill="#0070C0"/>
<circle cx="739.2" cy="845.0" r="6.7" fill="#0070C0"/>
<line x1="625.5" y1="675.3" x2="1007.5" y2="851.9" stroke="#000" stroke-width="1.7" stroke-linecap="round"/>
<line x1="832.1" y1="771.6" x2="1007.5" y2="848.1" stroke="#FF0000" stroke-width="1.7" stroke-linecap="round"/>
<line x1="625.5" y1="674.1" x2="749.7" y2="742.5" stroke="#0070C0" stroke-width="1.7" stroke-linecap="round"/>
</svg>
</body></html>
